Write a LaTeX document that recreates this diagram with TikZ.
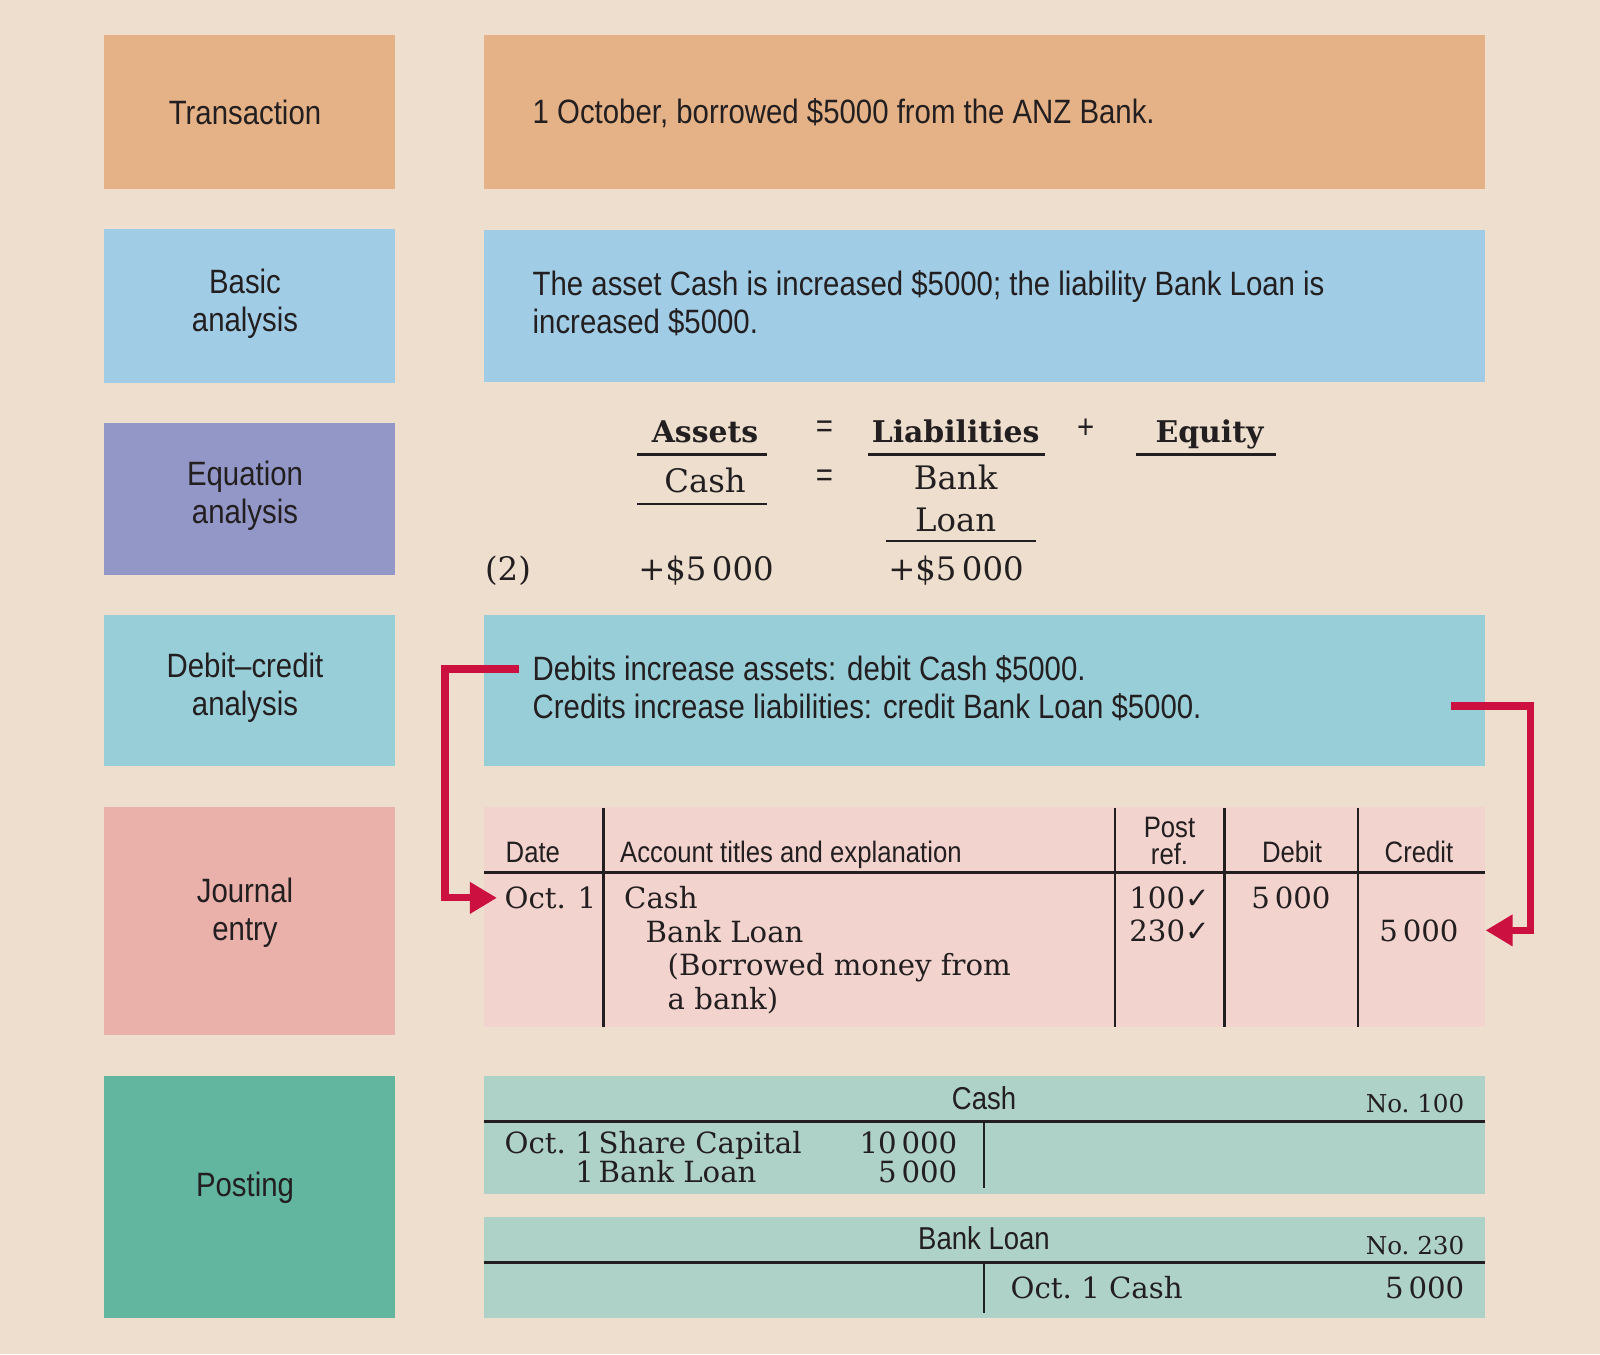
\documentclass[tikz,border=0pt]{standalone}
\usepackage{fontspec}
\usepackage{tikz}
\usetikzlibrary{arrows.meta}

\setmainfont{DejaVu Serif}
\newfontfamily\condsans[FakeStretch=0.87]{Liberation Sans}
\newfontfamily\tickfont{DejaVu Sans}

\newcommand{\labelfont}{\condsans\fontsize{9.6}{10.8}\selectfont}
\newcommand{\headfont}{\condsans\fontsize{8.4}{7.6}\selectfont}
\newcommand{\titlefont}{\condsans\fontsize{9}{10}\selectfont}
\newcommand{\ledgerfont}{\fontsize{8.3}{9.4}\selectfont}
\newcommand{\accnofont}{\fontsize{7}{8}\selectfont}
\newcommand{\eqfont}{\fontsize{9.2}{11}\selectfont}
\newcommand{\eqboldfont}{\bfseries\fontsize{8.5}{10}\selectfont}
\newcommand{\tick}{{\tickfont ✓}}

\definecolor{pagebg}{RGB}{237,222,206}
\definecolor{transorange}{RGB}{229,178,135}
\definecolor{basicblue}{RGB}{160,204,230}
\definecolor{eqpurple}{RGB}{147,151,199}
\definecolor{dcteal}{RGB}{152,206,216}
\definecolor{jrnlpink}{RGB}{234,176,170}
\definecolor{jrnltable}{RGB}{242,211,205}
\definecolor{postgreen}{RGB}{98,181,159}
\definecolor{posttable}{RGB}{174,210,199}
\definecolor{arrowred}{RGB}{204,16,64}
\definecolor{ink}{RGB}{35,31,32}

\begin{document}
\begin{tikzpicture}[
    x = 0.01cm, y = -0.01cm,
    line join = miter,
    %
    stage/.style = {inner sep = 0, minimum width = 2.9cm},
    panel/.style = {inner sep = 0, minimum width = 10.005cm},
    %
    label/.style = {font = \labelfont, align = center, text = ink},
    body/.style = {font = \labelfont, align = left, anchor = west,
      inner sep = 0, text = ink},
    head/.style = {font = \headfont, align = center, inner sep = 0,
      text = ink, anchor = base},
    entry/.style = {font = \ledgerfont, inner sep = 0, text = ink,
      anchor = base},
    eqterm/.style = {font = \eqfont, inner sep = 0, text = ink,
      anchor = base},
    eqhead/.style = {font = \eqboldfont, inner sep = 0, text = ink,
      anchor = base},
    %
    rule/.style = {ink, line width = 0.85pt},
    thinrule/.style = {ink, line width = 0.6pt},
    flow/.style = {arrowred, line width = 2pt,
      -{Triangle[length = 0.27cm, width = 0.3cm]}},
    ]

    \fill [pagebg] (0, 0) rectangle (1600, 1354);

    \node at (249.5, 112) [stage, minimum height = 1.53cm,
    fill = transorange, name = S_trans] {};
    \node at (249.5, 306) [stage, minimum height = 1.535cm,
    fill = basicblue, name = S_basic] {};
    \node at (249.5, 499) [stage, minimum height = 1.52cm,
    fill = eqpurple, name = S_eq] {};
    \node at (249.5, 690.5) [stage, minimum height = 1.51cm,
    fill = dcteal, name = S_dc] {};
    \node at (249.5, 921) [stage, minimum height = 2.28cm,
    fill = jrnlpink, name = S_jrnl] {};
    \node at (249.5, 1197) [stage, minimum height = 2.42cm,
    fill = postgreen, name = S_post] {};

    \node at (245, 112.7) [label, name = L_trans] {Transaction};
    \node at (245, 304) [label, name = L_basic] {Basic\\analysis};
    \node at (245, 496) [label, name = L_eq] {Equation\\analysis};
    \node at (245, 688) [label, name = L_dc] {Debit–credit\\analysis};
    \node at (245, 912.6) [label, name = L_jrnl] {Journal\\entry};
    \node at (245, 1188) [label, name = L_post] {Posting};

    \node at (984.3, 112) [panel, minimum height = 1.53cm,
    fill = transorange, name = R_trans] {};
    \node at (984.3, 306) [panel, minimum height = 1.52cm,
    fill = basicblue, name = R_basic] {};
    \node at (984.3, 690.5) [panel, minimum height = 1.51cm,
    fill = dcteal, name = R_dc] {};

    \node at (532, 112.7) [body, name = T_trans]
    {1 October, borrowed \$5000 from the ANZ Bank.};
    \node at (532, 303) [body, name = T_basic]
    {The asset Cash is increased \$5000; the liability Bank Loan is\\
      increased \$5000.};
    \node at (532, 688) [body, name = T_dc]
    {Debits increase assets: debit Cash \$5000.\\
      Credits increase liabilities: credit Bank Loan \$5000.};

    \node at (705, 442) [eqhead, name = E_assets] {Assets};
    \node at (824.5, 429) [label, name = E_eqa] {=};
    \node at (955.6, 442) [eqhead, name = E_liab] {Liabilities};
    \node at (1085.7, 429) [label, name = E_plus] {+};
    \node at (1209.5, 442) [eqhead, name = E_equity] {Equity};

    \node at (705, 492) [eqterm, name = E_cash] {Cash};
    \node at (824.5, 478) [label, name = E_eqb] {=};
    \node at (955.6, 489) [eqterm, name = E_bank] {Bank};
    \node at (955.6, 531) [eqterm, name = E_loan] {Loan};

    \node at (508, 580) [eqterm, name = E_num] {(2)};
    \node at (706, 580) [eqterm, name = E_dcash] {+\$5\,000};
    \node at (956, 580) [eqterm, name = E_dloan] {+\$5\,000};

    \draw [rule] (637, 454.5) -- (767, 454.5);
    \draw [rule] (868, 454.5) -- (1045, 454.5);
    \draw [rule] (1136, 454.5) -- (1276, 454.5);
    \draw [thinrule] (637, 504.3) -- (767, 504.3);
    \draw [thinrule] (886, 540.8) -- (1036, 540.8);

    \node at (984.3, 917) [panel, minimum height = 2.195cm,
    fill = jrnltable, name = J_tab] {};
    \draw [rule] (484, 872.5) -- (1484.6, 872.5);
    \draw [thinrule] (603.5, 808) -- (603.5, 1026.5);
    \draw [thinrule] (1115, 808) -- (1115, 1026.5);
    \draw [thinrule] (1224.5, 808) -- (1224.5, 1026.5);
    \draw [thinrule] (1358, 808) -- (1358, 1026.5);

    \node at (505, 862) [head, anchor = base west, name = J_hdate] {Date};
    \node at (619.5, 862) [head, anchor = base west, name = J_hacct]
    {Account titles and explanation};
    \node at (1169.5, 841) [head, anchor = center, name = J_hpost]
    {Post\\ref.};
    \node at (1292, 862) [head, name = J_hdebit] {Debit};
    \node at (1419, 862) [head, name = J_hcredit] {Credit};

    \node at (504, 908.5) [entry, anchor = base west, name = J_date1]
    {Oct.\hspace{0.4em}1};
    \node at (623.5, 908.5) [entry, anchor = base west, name = J_acct1]
    {Cash};
    \node at (645, 942) [entry, anchor = base west, name = J_acct2]
    {Bank Loan};
    \node at (667, 975.5) [entry, anchor = base west, name = J_expl1]
    {(Borrowed money from};
    \node at (667, 1009) [entry, anchor = base west, name = J_expl2]
    {a bank)};
    \node at (1169.5, 908.5) [entry, name = J_ref1] {100\tick};
    \node at (1169.5, 941) [entry, name = J_ref2] {230\tick};
    \node at (1291, 908.5) [entry, name = J_dr1] {5\,000};
    \node at (1419, 941) [entry, name = J_cr1] {5\,000};

    \coordinate (dc_in) at (519, 669);
    \coordinate (dc_out) at (1451, 706);

    \draw [flow, shorten > = 2pt] (dc_in) -- ++(-74, 0) |- (J_date1.west);
    \draw [flow] (dc_out) -- ++(79, 0) |- (J_tab.east |- J_cr1);

    \node at (984.3, 1135) [panel, minimum height = 1.18cm,
    fill = posttable, name = P_cash] {};
    \draw [rule] (484, 1121.7) -- (1484.6, 1121.7);
    \draw [thinrule] (984, 1121.7) -- (984, 1188);

    \node at (984, 1098) [font = \titlefont, text = ink, name = P_cashtitle]
    {Cash};
    \node at (1465, 1112) [entry, font = \accnofont, anchor = base east,
    name = P_cashno] {No.\ 100};
    \node at (504, 1153) [entry, anchor = base west, name = P_cdate1]
    {Oct.\ 1};
    \node at (598, 1153) [entry, anchor = base west, name = P_cacct1]
    {Share Capital};
    \node at (958, 1153) [entry, anchor = base east, name = P_camt1]
    {10\,000};
    \node at (P_cdate1.base east |- 0, 1182) [entry, anchor = base east,
    name = P_cdate2] {1};
    \node at (598, 1182) [entry, anchor = base west, name = P_cacct2]
    {Bank Loan};
    \node at (958, 1182) [entry, anchor = base east, name = P_camt2]
    {5\,000};

    \node at (984.3, 1267.5) [panel, minimum height = 1.01cm,
    fill = posttable, name = P_loan] {};
    \draw [rule] (484, 1262) -- (1484.6, 1262);
    \draw [thinrule] (984, 1262) -- (984, 1313);

    \node at (984, 1238) [font = \titlefont, text = ink, name = P_loantitle]
    {Bank Loan};
    \node at (1465, 1254) [entry, font = \accnofont, anchor = base east,
    name = P_loanno] {No.\ 230};
    \node at (1010, 1298.5) [entry, anchor = base west, name = P_ldate1]
    {Oct.\ 1 Cash};
    \node at (1465, 1298.5) [entry, anchor = base east, name = P_lamt1]
    {5\,000};

  \end{tikzpicture}
\end{document}
